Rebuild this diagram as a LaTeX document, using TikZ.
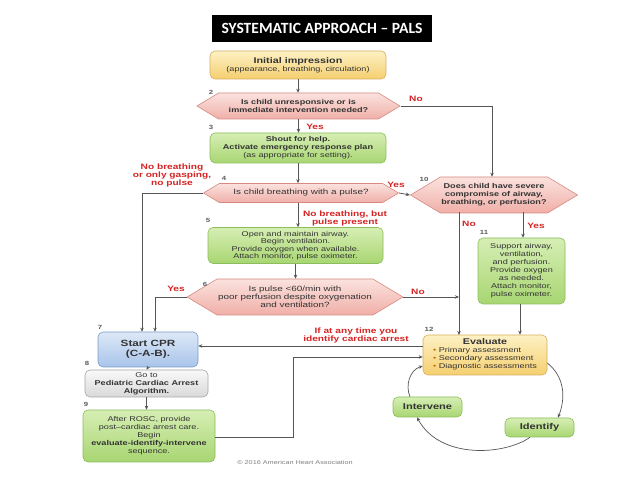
\documentclass[tikz,border=0pt]{standalone}
\usepackage{fontspec}
\setmainfont[FakeStretch=1.3]{Liberation Sans}
\newfontfamily\titlefont{Carlito}
\usetikzlibrary{shapes.symbols,arrows.meta}
\definecolor{redlbl}{HTML}{D42424}
\definecolor{lineg}{HTML}{555555}
\definecolor{txt}{HTML}{333333}
\definecolor{gTop}{HTML}{D6EEB4}
\definecolor{gBot}{HTML}{A8D672}
\definecolor{gBrd}{HTML}{8CBD5C}
\definecolor{oTop}{HTML}{FDF1C4}
\definecolor{oBot}{HTML}{F5CF70}
\definecolor{oBrd}{HTML}{D8AE5C}
\definecolor{pTop}{HTML}{FBE2DE}
\definecolor{pBot}{HTML}{F0AFA8}
\definecolor{pBrd}{HTML}{D68A80}
\definecolor{bTop}{HTML}{DCE8F7}
\definecolor{bBot}{HTML}{A9C4EA}
\definecolor{bBrd}{HTML}{7C9CC8}
\tikzset{
  base/.style={draw=#1, line width=0.6pt, rounded corners=5pt, align=center, inner sep=1pt, text=txt,
    font=\fontsize{7}{8}\selectfont},
  greenbox/.style={base=gBrd, top color=gTop, bottom color=gBot},
  orangebox/.style={base=oBrd, top color=oTop, bottom color=oBot},
  bluebox/.style={base=bBrd, top color=bTop, bottom color=bBot},
  graybox/.style={base=gray!70, top color=gray!5, bottom color=gray!30},
  hexq/.style={signal, signal to=east and west, signal pointer angle=62, draw=pBrd, line width=0.6pt,
    top color=pTop, bottom color=pBot, align=center, inner sep=1pt, text=txt,
    font=\fontsize{7.6}{8.2}\selectfont},
  hexb/.style={hexq, font=\bfseries\fontsize{7}{8}\selectfont},
  redl/.style={text=redlbl, font=\bfseries\fontsize{7.8}{8}\selectfont, align=center, inner sep=0pt},
  numl/.style={text=txt!80, font=\bfseries\fontsize{6}{6}\selectfont, inner sep=0pt},
  headf/.style={font=\bfseries\fontsize{8.3}{9}\selectfont},
  conn/.style={draw=lineg, line width=0.8pt},
  arr/.style={conn, -{Stealth[length=4pt,width=3.5pt]}},
}
\begin{document}
\begin{tikzpicture}[x=1pt,y=-1pt]
\path[fill=white] (0,0) rectangle (638,478);
\useasboundingbox (0,0) rectangle (638,478);
% title
\node[fill=black, text=white, minimum width=220pt, minimum height=27pt, inner sep=0pt,
  font=\titlefont\bfseries\fontsize{15.6}{16}\selectfont] (title) at (322,28.5) {SYSTEMATIC APPROACH – PALS};
% nodes
\node[orangebox, minimum width=176pt, minimum height=28pt] (n1) at (298,65)
  {{\bfseries\fontsize{8.3}{9.5}\selectfont Initial impression}\\(appearance, breathing, circulation)};
\node[hexb, minimum width=203pt, minimum height=26pt] (d2) at (298.5,106)
  {Is child unresponsive or is\\immediate intervention needed?};
\node[greenbox, minimum width=176pt, minimum height=30pt] (n3) at (298,148)
  {\textbf{Shout for help.}\\\textbf{Activate emergency response plan}\\(as appropriate for setting).};
\node[hexq, minimum width=195pt, minimum height=19pt] (d4) at (301,193)
  {Is child breathing with a pulse?};
\node[hexb, minimum width=162pt, minimum height=36pt] (d10) at (494,195)
  {Does child have severe\\compromise of airway,\\breathing, or perfusion?};
\node[greenbox, minimum width=87pt, minimum height=66pt] (n11) at (521.5,271)
  {Support airway,\\ventilation,\\and perfusion.\\Provide oxygen\\as needed.\\Attach monitor,\\pulse oximeter.};
\node[greenbox, minimum width=175pt, minimum height=36pt, font=\fontsize{7}{7.4}\selectfont] (n5) at (295.5,245.5)
  {Open and maintain airway.\\Begin ventilation.\\Provide oxygen when available.\\Attach monitor, pulse oximeter.};
\node[hexq, minimum width=200pt, minimum height=36pt] (d6) at (295,297)
  {Is pulse <60/min with\\poor perfusion despite oxygenation\\and ventilation?};
\node[bluebox, minimum width=100pt, minimum height=35pt, font=\bfseries\fontsize{9}{10}\selectfont] (n7) at (148,349.5)
  {Start CPR\\(C-A-B).};
\node[graybox, minimum width=123pt, minimum height=27pt] (n8) at (146.5,383.5)
  {Go to\\\textbf{Pediatric Cardiac Arrest}\\\textbf{Algorithm.}};
\node[greenbox, minimum width=132pt, minimum height=52pt] (n9) at (149,436)
  {After ROSC, provide\\post–cardiac arrest care.\\Begin\\\textbf{evaluate-identify-intervene}\\sequence.};
\node[orangebox, minimum width=124pt, minimum height=40pt, inner sep=0pt] (n12) at (485,355)
  {\begin{tabular}{@{}l@{}}
   \multicolumn{1}{@{}c@{}}{\bfseries\fontsize{8.3}{9}\selectfont Evaluate}\\
   \textcolor{orange!80!black}{\textbullet}\ Primary assessment\\
   \textcolor{orange!80!black}{\textbullet}\ Secondary assessment\\
   \textcolor{orange!80!black}{\textbullet}\ Diagnostic assessments
   \end{tabular}};
\node[greenbox, minimum width=69pt, minimum height=20pt, font=\bfseries\fontsize{8.5}{9}\selectfont] (iv) at (427.5,407) {Intervene};
\node[greenbox, minimum width=69pt, minimum height=19pt, font=\bfseries\fontsize{8.5}{9}\selectfont] (id) at (539.5,427.5) {Identify};
% numbers
\node[numl] (k2) at (211,92) {2};
\node[numl] (k3) at (211,127) {3};
\node[numl] (k4) at (224,178) {4};
\node[numl] (k5) at (208,220) {5};
\node[numl] (k6) at (205,284) {6};
\node[numl] (k7) at (100,327) {7};
\node[numl] (k8) at (87,363) {8};
\node[numl] (k9) at (86,404) {9};
\node[numl] (k10) at (424,179) {10};
\node[numl] (k11) at (484,232) {11};
\node[numl] (k12) at (429,329) {12};
% red labels
\node[redl] (l2no) at (416,99) {No};
\node[redl] (l2yes) at (315,127) {Yes};
\node[redl] (l4no) at (172,175) {No breathing\\or only gasping,\\no pulse};
\node[redl] (l4yes) at (396,185) {Yes};
\node[redl] (l4nb) at (345,218) {No breathing, but\\pulse present};
\node[redl] (l6yes) at (176,289) {Yes};
\node[redl] (l6no) at (418,292) {No};
\node[redl] (l10no) at (469,224) {No};
\node[redl] (l10yes) at (536,226) {Yes};
\node[redl] (lca) at (356,335) {If at any time you\\identify cardiac arrest};
\node[text=gray, font=\fontsize{5.6}{6}\selectfont, inner sep=0pt] (copy) at (295,462) {© 2016 American Heart Association};
% coordinates
\coordinate (c2) at (492,106);
\coordinate (c4) at (142,193);
\coordinate (c6) at (155,297);
\coordinate (c6e) at (459,297);
\coordinate (c9a) at (293,437);
\coordinate (c9b) at (293,357);
% connectors
\draw[arr] (n1.south) -- (n1.south |- d2.north);
\draw[arr] (d2.south) -- (d2.south |- n3.north);
\draw[arr] (d2.east) -- (c2) -- (c2 |- d10.north);
\draw[arr] (n3.south) -- (n3.south |- d4.north);
\draw[arr] (d4.west) -- (c4) -- (c4 |- n7.north);
\draw[arr] (d4.east) -- (d10.west);
\draw[arr] (d4.south -| n3.south) -- (n3.south |- n5.north);
\draw[arr] (n5.south) -- (n5.south |- d6.north);
\draw[arr] (d6.west) -- (c6) -- (c6 |- n7.north);
\draw[arr] (d6.east) -- (c6e);
\draw[arr] (459,212) -- (459,335);
\draw[arr] (523,212) -- (n11.north -| 523,0);
\draw[arr] (n11.south -| 520,0) -- (n12.north -| 520,0);
\draw[arr] (n12.west |- 0,346) -- (n7.east |- 0,346);
\draw[arr] (n9.east |- c9a) -- (c9a) -- (c9b) -- (n12.west |- c9b);
\draw[arr] (n7.south) -- (n8.north);
\draw[arr] (n8.south) -- (n9.north -| n8.south);
% cycle
\draw[arr, line width=0.7pt] (n12.east |- 0,363) .. controls (566,378) and (565,400) .. (id.north -| 558,0);
\draw[arr, line width=0.7pt] (id.south -| 530,0) .. controls (505,455) and (440,460) .. (iv.south -| 417,0);
\draw[arr, line width=0.7pt] (iv.north -| 410,0) .. controls (405,385) and (410,370) .. (n12.west |- 0,366);
\end{tikzpicture}
\end{document}
